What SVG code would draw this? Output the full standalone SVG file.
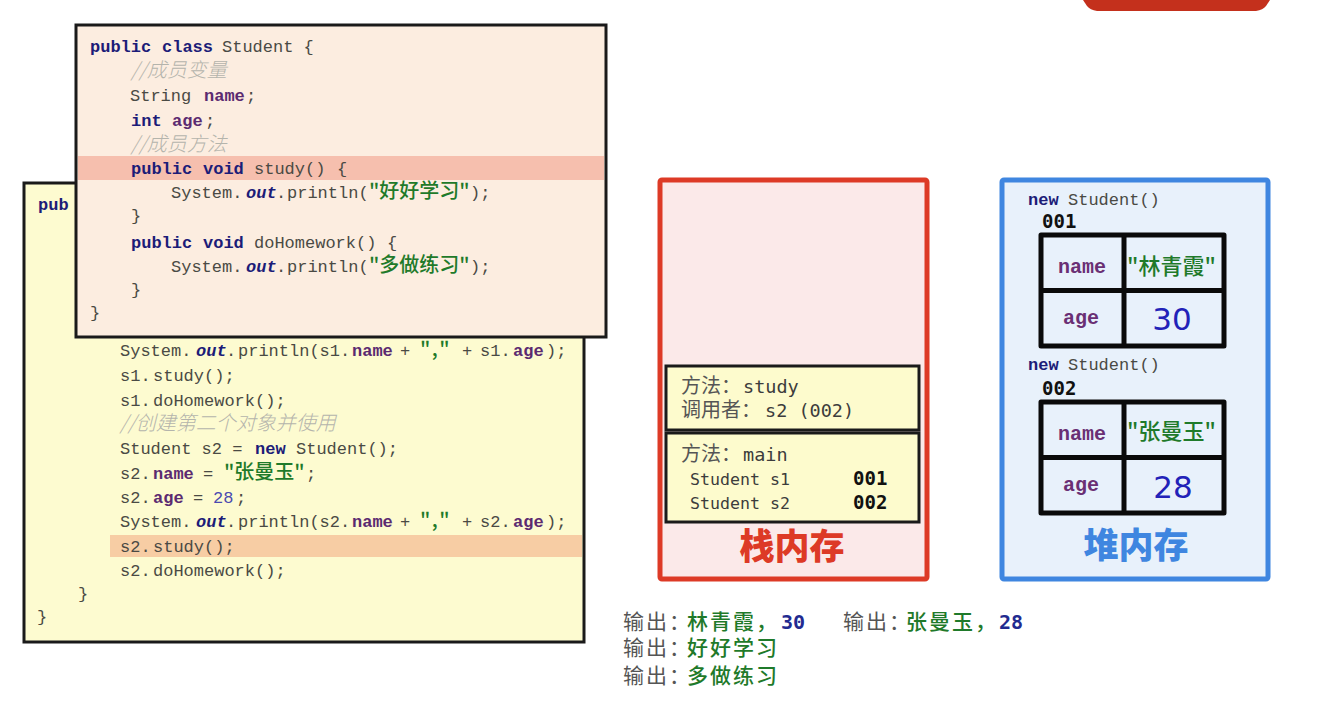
<svg xmlns="http://www.w3.org/2000/svg" width="1334" height="726" viewBox="0 0 1334 726">
<style>
text{font-family:"Liberation Mono","Noto Sans CJK SC",monospace;font-size:17px;fill:#4a4a44;white-space:pre}
.k{fill:#1c1c78;font-weight:700}
.f{fill:#5b2a70;font-weight:700}
.c{fill:#b4b4ac;font-style:italic;font-family:"Noto Sans CJK SC",sans-serif;font-size:20px;font-weight:300}
.s{fill:#1f7a2a;font-weight:500;font-family:"Noto Sans CJK SC",sans-serif;font-size:20px}
.q{letter-spacing:4px}
.i{fill:#1c1c78;font-style:italic;font-weight:700}
.n{fill:#4a4ab0}
.z{font-family:"Noto Sans CJK SC",sans-serif;font-size:20px;fill:#555}
.d{font-family:"DejaVu Sans Mono",monospace;font-size:18.5px;fill:#3c3c3c}
.b{font-family:"DejaVu Sans Mono",monospace;font-size:19px;font-weight:700;fill:#111}
.h{font-family:"Noto Sans CJK SC",sans-serif;font-size:35px;font-weight:900;text-anchor:middle}
.cell{font-size:20px;font-weight:700;fill:#6a2f74;text-anchor:middle}
.num{font-family:"DejaVu Sans",sans-serif;font-size:31px;fill:#2222b8;text-anchor:middle}
.o{font-family:"DejaVu Sans Mono",monospace;font-size:20px;font-weight:700;fill:#222a90}
.w{font-size:21px;letter-spacing:2px}
.code{stroke:#1a1a1a;stroke-width:3}
.frame{fill:#fdfbcd;stroke:#1a1a1a;stroke-width:3}
.tbl{fill:none;stroke:#0a0a0a;stroke-width:5;stroke-linejoin:round}
</style>
<rect width="1334" height="726" fill="#fff"/>
<path id="top-shape" d="M1083 0H1270L1266 6Q1263 10 1256 11H1097Q1090 10 1087 6Z" fill="#c4301c"/>
<g id="main-class">
<rect class="code" x="24" y="183" width="560" height="459" fill="#fdfbd0"/>
<rect x="110" y="535" width="472" height="22" fill="#f7cda4"/>
<text x="38" y="210" class="k">pub</text>
<text y="356"><tspan x="120">System.</tspan><tspan x="196" class="i">out</tspan><tspan x="226">.</tspan><tspan x="238">println(s1.</tspan><tspan x="352" class="f">name</tspan><tspan x="400">+</tspan><tspan x="420" class="s q">","</tspan><tspan x="462">+</tspan><tspan x="480">s1.</tspan><tspan x="513" class="f">age</tspan><tspan x="546">);</tspan></text>
<text y="381"><tspan x="120">s1.</tspan><tspan x="153">study();</tspan></text>
<text y="406"><tspan x="120">s1.</tspan><tspan x="153">doHomework();</tspan></text>
<text x="120" y="430" class="c">//创建第二个对象并使用</text>
<text y="454"><tspan x="120">Student s2 =</tspan><tspan x="255" class="k">new</tspan><tspan x="296">Student();</tspan></text>
<text y="479"><tspan x="120">s2.</tspan><tspan x="153" class="f">name</tspan><tspan x="203">=</tspan><tspan x="224" class="s">"张曼玉"</tspan><tspan x="306">;</tspan></text>
<text y="503"><tspan x="120">s2.</tspan><tspan x="153" class="f">age</tspan><tspan x="193">=</tspan><tspan x="213" class="n">28</tspan><tspan x="236">;</tspan></text>
<text y="527"><tspan x="120">System.</tspan><tspan x="196" class="i">out</tspan><tspan x="226">.</tspan><tspan x="238">println(s2.</tspan><tspan x="352" class="f">name</tspan><tspan x="400">+</tspan><tspan x="420" class="s q">","</tspan><tspan x="462">+</tspan><tspan x="480">s2.</tspan><tspan x="513" class="f">age</tspan><tspan x="546">);</tspan></text>
<text y="552"><tspan x="120">s2.</tspan><tspan x="153">study();</tspan></text>
<text y="576"><tspan x="120">s2.</tspan><tspan x="153">doHomework();</tspan></text>
<text x="78" y="599">}</text>
<text x="37" y="622">}</text>
</g>
<g id="student-class">
<rect class="code" x="76" y="25" width="530" height="312" fill="#fcede0"/>
<rect x="78" y="156" width="526" height="24" fill="#f6bfae"/>
<text y="52"><tspan x="90" class="k">public</tspan><tspan x="162" class="k">class</tspan><tspan x="222">Student {</tspan></text>
<text x="131" y="77" class="c">//成员变量</text>
<text y="101"><tspan x="130">String</tspan><tspan x="204" class="f">name</tspan><tspan x="246">;</tspan></text>
<text y="126"><tspan x="131" class="k">int</tspan><tspan x="172" class="f">age</tspan><tspan x="205">;</tspan></text>
<text x="131" y="151" class="c">//成员方法</text>
<text y="174"><tspan x="131" class="k">public</tspan><tspan x="203" class="k">void</tspan><tspan x="254">study()</tspan><tspan x="337">{</tspan></text>
<text y="198"><tspan x="171">System.</tspan><tspan x="246" class="i">out</tspan><tspan x="276">.</tspan><tspan x="287">println(</tspan><tspan x="369" class="s">"好好学习"</tspan><tspan x="470">);</tspan></text>
<text x="131" y="221">}</text>
<text y="248"><tspan x="131" class="k">public</tspan><tspan x="203" class="k">void</tspan><tspan x="254">doHomework()</tspan><tspan x="387">{</tspan></text>
<text y="272"><tspan x="171">System.</tspan><tspan x="246" class="i">out</tspan><tspan x="276">.</tspan><tspan x="287">println(</tspan><tspan x="369" class="s">"多做练习"</tspan><tspan x="470">);</tspan></text>
<text x="131" y="295">}</text>
<text x="90" y="318">}</text>
</g>
<g id="stack">
<rect x="660" y="180" width="267" height="399" rx="2" fill="#fbe9e9" stroke="#dd3a26" stroke-width="5"/>
<text class="h" x="792" y="559" style="fill:#dd3a26">栈内存</text>
</g>
<g id="frame-study">
<rect class="frame" x="666" y="366" width="253" height="64"/>
<text class="z" x="681" y="393">方法：</text><text class="d" x="743" y="393">study</text>
<text class="z" x="681" y="417">调用者：</text><text class="d" x="765" y="417">s2 (002)</text>
</g>
<g id="frame-main">
<rect class="frame" x="666" y="433" width="253" height="89"/>
<text class="z" x="681" y="461">方法：</text><text class="d" x="743" y="461">main</text>
<text class="d" style="font-size:16.6px" x="690" y="485">Student s1</text><text class="b" x="853" y="485">001</text>
<text class="d" style="font-size:16.6px" x="690" y="509">Student s2</text><text class="b" x="853" y="509">002</text>
</g>
<g id="heap">
<rect x="1002" y="180" width="266" height="399" rx="2" fill="#e8f1fb" stroke="#3f86e0" stroke-width="5"/>
<text class="h" x="1136" y="558" style="fill:#3f86e0">堆内存</text>
</g>
<g id="object-001">
<text y="205"><tspan x="1028" class="k">new</tspan><tspan x="1068">Student()</tspan></text>
<text class="b" x="1042" y="228">001</text>
<path class="tbl" d="M1041 235H1224V346H1041ZM1041 290.500H1224M1124 235V346"/>
<text class="cell" x="1082" y="273">name</text>
<text class="s" x="1127" y="274" style="font-size:22px">"林青霞"</text>
<text class="cell" x="1081" y="324">age</text>
<text class="num" x="1172" y="330">30</text>
</g>
<g id="object-002">
<text y="370"><tspan x="1028" class="k">new</tspan><tspan x="1068">Student()</tspan></text>
<text class="b" x="1042" y="395">002</text>
<path class="tbl" d="M1041 402H1224V513H1041ZM1041 457.500H1224M1124 402V513"/>
<text class="cell" x="1082" y="440">name</text>
<text class="s" x="1127" y="439" style="font-size:22px">"张曼玉"</text>
<text class="cell" x="1081" y="491">age</text>
<text class="num" x="1173" y="498">28</text>
</g>
<g id="output">
<text class="z w" x="623" y="629">输出：</text><text class="s w" x="687" y="629">林青霞，</text><text class="o" x="781" y="629">30</text>
<text class="z w" x="843" y="629">输出：</text><text class="s w" x="906" y="629">张曼玉，</text><text class="o" x="999" y="629">28</text>
<text class="z w" x="623" y="655">输出：</text><text class="s w" x="687" y="655">好好学习</text>
<text class="z w" x="623" y="683">输出：</text><text class="s w" x="687" y="683">多做练习</text>
</g>
<g id="connectors"/>
</svg>
